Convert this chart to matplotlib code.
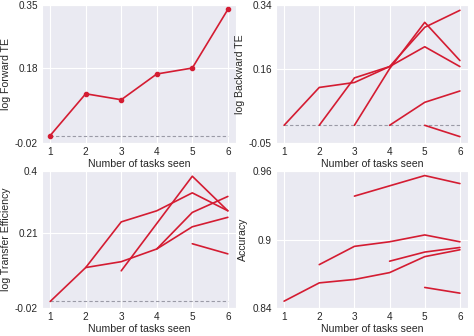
import numpy as np
import matplotlib
matplotlib.use("Agg")
import matplotlib.pyplot as plt
import seaborn as sns

nan = np.nan
tasks_seen = [1, 2, 3, 4, 5, 6]

# log Forward TE (one series)
forward_te = [0.0, 0.112, 0.096, 0.165, 0.181, 0.338]

# log Backward TE, one series per task
backward_te = [
    [0.0, 0.107, 0.121, 0.166, 0.222, 0.166],
    [nan, 0.0, 0.134, 0.166, 0.277, 0.325],
    [nan, nan, 0.0, 0.160, 0.291, 0.183],
    [nan, nan, nan, 0.0, 0.065, 0.097],
    [nan, nan, nan, nan, 0.0, -0.032],
]

# log Transfer Efficiency, one series per task
transfer_eff = [
    [0.0, 0.104, 0.122, 0.161, 0.229, 0.258],
    [nan, 0.104, 0.244, 0.278, 0.333, 0.278],
    [nan, nan, 0.094, 0.239, 0.384, 0.278],
    [nan, nan, nan, 0.161, 0.273, 0.322],
    [nan, nan, nan, nan, 0.177, 0.146],
    [nan, nan, nan, nan, nan, 0.338],
]

# Accuracy, one series per task
accuracy = [
    [0.846, 0.862, 0.865, 0.871, 0.885, 0.891],
    [nan, 0.878, 0.894, 0.898, 0.904, 0.898],
    [nan, nan, 0.938, 0.947, 0.956, 0.949],
    [nan, nan, nan, 0.881, 0.889, 0.893],
    [nan, nan, nan, nan, 0.858, 0.853],
]

yticks_fte = [-0.02, 0.18, 0.35]
yticks_bte = [-0.05, 0.16, 0.34]
yticks_te = [-0.02, 0.21, 0.4]
yticks_acc = [0.84, 0.9, 0.96]

sns.set_style("darkgrid")
plt.rcParams['font.family'] = ['Liberation Sans', 'DejaVu Sans']

RED = '#d41c32'
TICK_FS = 7.2
LAB_FS = 7.6

fig = plt.figure(figsize=(4.74, 3.36), dpi=100)
W, H = 474, 336

def mk(l, t, r, b):
    return fig.add_axes([l / W, 1 - b / H, (r - l) / W, (b - t) / H])

ax1 = mk(42, 5, 236, 143)
ax2 = mk(276, 5, 468, 143)
ax3 = mk(42, 171, 236, 308)
ax4 = mk(276, 171, 468, 308)

x = np.array(tasks_seen)

def style(ax, yt, ylabel):
    ax.set_xlim(0.77, 6.23)
    ax.set_xticks(tasks_seen)
    ax.set_yticks(yt)
    ax.set_yticklabels([str(v) for v in yt])
    ax.set_ylim(yt[0], yt[-1])
    ax.tick_params(axis='x', labelsize=TICK_FS, pad=3, length=0)
    ax.tick_params(axis='y', labelsize=TICK_FS, pad=3, length=0)
    ax.set_xlabel("Number of tasks seen", fontsize=LAB_FS, labelpad=1.5)
    ax.set_ylabel(ylabel, fontsize=LAB_FS, labelpad=3)
    ax.grid(True, color='white', linewidth=0.8)

DASH = dict(ls=(0, (3, 2)), color='#9a9aa6', lw=0.8)

# Panel 1
ax1.plot(x, np.zeros_like(x, dtype=float), **DASH)
ax1.plot(x, forward_te, color=RED, lw=1.2, marker='o', ms=3)
style(ax1, yticks_fte, "log Forward TE")

# Panel 2
ax2.plot(x, np.zeros_like(x, dtype=float), **DASH)
for s in backward_te:
    ax2.plot(x, s, color=RED, lw=1.2)
style(ax2, yticks_bte, "log Backward TE")

# Panel 3
ax3.plot(x, np.zeros_like(x, dtype=float), **DASH)
for s in transfer_eff:
    ax3.plot(x, s, color=RED, lw=1.2)
style(ax3, yticks_te, "log Transfer Efficiency")

# Panel 4
for s in accuracy:
    ax4.plot(x, s, color=RED, lw=1.2)
style(ax4, yticks_acc, "Accuracy")

fig.savefig("out.png", dpi=100)
